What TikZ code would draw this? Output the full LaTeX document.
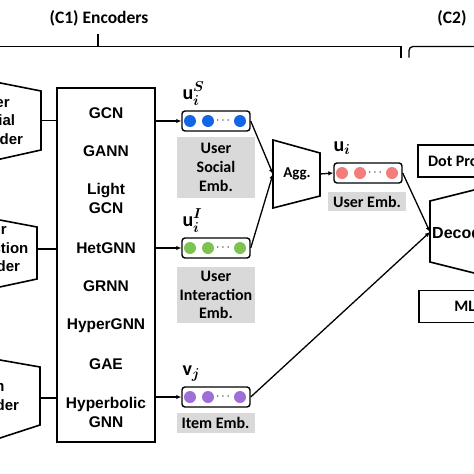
\documentclass[tikz,border=0pt]{standalone}
\usepackage{fontspec}
\usepackage{amsmath,bm}
\setmainfont{Carlito}
\newfontfamily\arialfam{Liberation Sans}
\usepackage{tikz}
\usetikzlibrary{arrows.meta}
\usetikzlibrary{calc}
\definecolor{tagray}{RGB}{217,217,217}
\definecolor{socblue}{RGB}{20,100,230}
\definecolor{intgreen}{RGB}{125,195,80}
\definecolor{itempurple}{RGB}{160,110,215}
\definecolor{userpink}{RGB}{243,125,125}
\tikzstyle{link}=[line width=1.3pt]
\tikzstyle{flow}=[link, -{Latex[length=5pt,width=4.5pt]}]
\tikzstyle{trap}=[draw, line width=1.6pt, line join=miter]
\tikzstyle{headlbl}=[font=\fontsize{17.5}{20}\selectfont\bfseries, inner sep=0pt]
\tikzstyle{enclbl}=[font=\arialfam\fontsize{15}{18.5}\selectfont\bfseries, align=center, inner sep=0pt]
\tikzstyle{gnnbox}=[draw, line width=1.6pt, minimum width=98, minimum height=354, inner sep=0pt]
\tikzstyle{gnnlbl}=[font=\arialfam\fontsize{15.5}{19}\selectfont\bfseries, align=center, inner sep=0pt]
\tikzstyle{emb}=[draw, rounded corners=3pt, line width=1.4pt, minimum width=68, minimum height=20, inner sep=0pt]
\tikzstyle{embtag}=[fill=tagray, font=\fontsize{16}{18.7}\selectfont\bfseries, align=center, minimum width=78, inner sep=0pt]
\tikzstyle{veclbl}=[font=\fontsize{20}{22}\selectfont, anchor=base west, inner sep=0pt]
\tikzstyle{opbox}=[draw, line width=1.6pt, minimum width=100, minimum height=32, font=\fontsize{16}{19}\selectfont\bfseries, inner sep=0pt]

\begin{document}
\begin{tikzpicture}[x=1pt,y=-1pt]
\useasboundingbox (0,0) rectangle (474,474);
\clip (0,0) rectangle (474,474);
% stage headers
\node[headlbl] (c1) at (99,18) {(C1) Encoders};
\node[headlbl] (c2) at (452,18) {(C2)};
\coordinate (brk) at (98,46.5);
\draw[link] (0,46.5) -- (401,46.5) -- (401,57.5);
\draw[link] (brk) -- (98,34);
\draw[link, rounded corners=4pt] (409,57.5) -- (409,46.5) -- (480,46.5);
% input encoders
\draw[trap] (-40,75) -- (41,91) -- (41,150) -- (-40,168) -- cycle;
\coordinate (socout) at (41,120.5);
\node[enclbl] (soclbl) at (-7,120.5) {User\\Social\\Encoder};
\draw[trap] (-40,212.5) -- (37,227) -- (37,279) -- (-40,295.5) -- cycle;
\coordinate (intout) at (37,249);
\node[enclbl] (intlbl) at (-10,248) {User\\Interaction\\Encoder};
\draw[trap] (-40,353) -- (40,367) -- (40,425) -- (-40,451) -- cycle;
\coordinate (itmout) at (40,398);
\node[enclbl] (itmlbl) at (-11,396) {Item\\Encoder};
% graph models
\node[gnnbox] (gnn) at (106,265) {};
\foreach \t/\y [count=\k] in {GCN/113, GANN/151, {Light\\GCN}/198.5, HetGNN/248,
  GRNN/286, HyperGNN/326, GAE/364, {Hyperbolic\\GNN}/412}
  \node[gnnlbl] (gnn\k) at (106,\y) {\t};
\draw[link] (socout) -- (socout -| gnn.west);
\draw[link] (intout) -- (intout -| gnn.west);
\draw[link] (itmout) -- (itmout -| gnn.west);
% embeddings
\node[emb] (es) at (216,121) {};
\node[emb] (ei) at (216,248) {};
\node[emb] (ej) at (216,397) {};
\node[emb] (eu) at (368,173) {};
\foreach \n/\c in {es/socblue, ei/intgreen, ej/itempurple, eu/userpink} {
  \foreach \dx in {-26,-8,24}
    \fill[\c] ($(\n)+(\dx,0)$) circle (6);
  \node[inner sep=0pt, font=\large] (\n-dd) at ($(\n)+(8,0)$) {$\cdots$};
}
\node[veclbl] (ls) at ($(es.north west)+(1,-11)$) {$\mathbf{u}_{\bm{i}}^{\bm{S}}$};
\node[veclbl] (li) at ($(ei.north west)+(1,-11)$) {$\mathbf{u}_{\bm{i}}^{\bm{I}}$};
\node[veclbl] (lj) at ($(ej.north west)+(1,-11)$) {$\mathbf{v}_{\bm{j}}$};
\node[veclbl] (lu) at ($(eu.north west)+(0,-11)$) {$\mathbf{u}_{\bm{i}}$};
\node[embtag, minimum height=61] (ts) at (216,167.5) {User\\Social\\Emb.};
\node[embtag, minimum height=56] (ti) at (216,295) {User\\Interaction\\Emb.};
\node[embtag, minimum height=20] (tj) at (215.5,423) {Item Emb.};
\node[embtag, minimum height=19] (tu) at (367,201.5) {User Emb.};
\draw[flow] (gnn.east |- es.west) -- (es.west);
\draw[flow] (gnn.east |- ei.west) -- (ei.west);
\draw[flow] (gnn.east |- ej.west) -- (ej.west);
% aggregation
\draw[trap] (273,140) -- (320,153) -- (320,196) -- (273,208) -- cycle;
\coordinate (aggin) at (273,174);
\coordinate (aggout) at (320,174);
\node[font=\fontsize{15}{18}\selectfont\bfseries] (agg) at (297,174) {Agg.};
\draw[flow] (es.east) -- (aggin);
\draw[flow] (ei.east) -- (aggin);
\draw[flow] (aggout) -- (eu.west);
% decoder
\draw[trap] (430,201) -- (520,178.5) -- (520,284.5) -- (430,262) -- cycle;
\coordinate (decin) at (430,232);
\node[font=\arialfam\fontsize{16}{19}\selectfont\bfseries, anchor=west, inner sep=0pt] (dec) at (432,233) {Decoder};
\draw[flow] (eu.east) -- (decin);
\draw[flow] (ej.east) -- (decin);
\node[opbox] (dot) at (468,161) {Dot Product};
\node[opbox] (mlp) at (469,306.5) {MLP};
\end{tikzpicture}
\end{document}
